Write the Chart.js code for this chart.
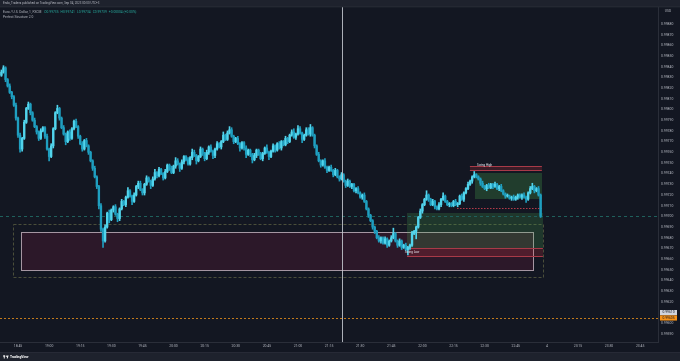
<!DOCTYPE html>
<html>
<head>
<meta charset="utf-8">
<script src="https://cdn.jsdelivr.net/npm/chart.js@4.4.0/dist/chart.umd.min.js"></script>
<style>
  html, body { margin: 0; background: #131722; }
  canvas { display: block; }
</style>
</head>
<body>
<canvas id="chart" width="680" height="361"></canvas>
<script>
// 1 minute candles, minute 0 = 18:45
const firstMinute = -8;
const firstOpen = 0.99832;
const closes = [
  0.99835,0.99839,0.99828,0.99822,0.99816,0.99812,0.99804,0.99792,0.99776,0.99763,
  0.99773,0.99788,0.99801,0.99805,0.99797,0.99790,0.99784,0.99779,0.99773,0.99780,
  0.99783,0.99775,0.99763,0.99756,0.99766,0.99782,0.99797,0.99801,0.99792,0.99783,
  0.99777,0.99770,0.99779,0.99773,0.99782,0.99789,0.99784,0.99775,0.99768,0.99763,
  0.99771,0.99766,0.99760,0.99752,0.99745,0.99737,0.99728,0.99710,0.99688,0.99677,
  0.99690,0.99703,0.99697,0.99706,0.99709,0.99702,0.99698,0.99707,0.99714,0.99711,
  0.99718,0.99724,0.99719,0.99714,0.99720,0.99728,0.99731,0.99725,0.99722,0.99730,
  0.99736,0.99733,0.99729,0.99735,0.99741,0.99738,0.99744,0.99740,0.99736,0.99742,
  0.99748,0.99745,0.99741,0.99747,0.99752,0.99749,0.99745,0.99751,0.99756,0.99753,
  0.99749,0.99755,0.99760,0.99757,0.99752,0.99756,0.99763,0.99759,0.99754,0.99760,
  0.99765,0.99761,0.99757,0.99763,0.99768,0.99765,0.99770,0.99776,0.99772,0.99778,
  0.99781,0.99775,0.99770,0.99773,0.99768,0.99764,0.99769,0.99764,0.99758,0.99762,
  0.99758,0.99753,0.99757,0.99762,0.99758,0.99754,0.99759,0.99764,0.99760,0.99756,
  0.99761,0.99766,0.99762,0.99768,0.99764,0.99770,0.99767,0.99773,0.99770,0.99776,
  0.99779,0.99774,0.99777,0.99782,0.99778,0.99772,0.99776,0.99781,0.99777,0.99783,
  0.99776,0.99766,0.99758,0.99752,0.99748,0.99752,0.99746,0.99743,0.99746,0.99743,
  0.99739,0.99743,0.99737,0.99735,0.99739,0.99733,0.99729,0.99733,0.99728,0.99730,
  0.99724,0.99726,0.99722,0.99718,0.99720,0.99714,0.99707,0.99701,0.99696,0.99690,
  0.99686,0.99680,0.99677,0.99680,0.99675,0.99679,0.99673,0.99677,0.99680,0.99684,
  0.99677,0.99673,0.99677,0.99671,0.99673,0.99669,0.99671,0.99673,0.99684,0.99686,
  0.99690,0.99699,0.99705,0.99711,0.99716,0.99720,0.99716,0.99711,0.99714,0.99709,
  0.99707,0.99711,0.99716,0.99719,0.99714,0.99711,0.99712,0.99710,0.99714,0.99711,
  0.99712,0.99719,0.99716,0.99722,0.99726,0.99730,0.99733,0.99737,0.99739,0.99737,
  0.99735,0.99731,0.99728,0.99726,0.99729,0.99727,0.99730,0.99728,0.99730,0.99726,
  0.99728,0.99724,0.99721,0.99719,0.99719,0.99717,0.99718,0.99716,0.99718,0.99720,
  0.99718,0.99720,0.99718,0.99716,0.99722,0.99726,0.99728,0.99724,0.99726,0.99720,
  0.99700
];
// wick lengths above / below the body, in 0.00001
const wickUp = [
  2,2,1,1,2,1,1,2,1,2, 1,2,1,2,1,1,2,1,1,2, 1,1,2,1,2,1,1,3,1,1, 2,1,1,2,1,1,2,1,1,2,
  1,2,1,1,1,2,1,1,2,1, 2,1,3,1,1,2,1,1,2,1, 1,3,1,1,2,1,2,2,1,1, 2,1,1,2,3,1,2,1,1,2,
  1,1,2,1,3,2,1,2,1,1, 2,1,3,2,1,1,2,1,1,2, 1,2,1,1,2,1,1,3,1,2, 3,2,1,1,2,1,1,1,2,1,
  1,1,2,1,1,2,1,1,3,1, 1,2,1,1,2,1,1,2,1,1, 2,3,1,3,2,1,1,2,2,3, 1,1,1,2,1,1,2,1,1,2,
  1,2,1,1,2,1,1,2,1,1, 1,1,2,1,1,2,1,1,1,1, 1,1,2,1,1,2,1,1,2,5, 1,1,2,1,1,2,1,1,2,1,
  1,1,2,1,1,4,1,1,2,1, 1,2,1,3,1,1,1,1,1,2, 1,1,2,1,1,2,1,1,3,1, 1,1,2,1,1,2,1,1,2,1,
  1,2,1,1,2,1,1,2,1,1, 1,1,2,1,1,2,3,1,1,2, 1
];
const wickDn = [
  1,1,2,1,1,2,1,2,2,3, 2,1,1,1,2,1,1,2,2,1, 1,2,1,4,1,2,1,1,2,1, 1,3,1,2,1,1,1,2,1,2,
  1,1,2,1,2,1,2,3,2,6, 1,1,3,1,2,1,3,2,1,1, 2,1,1,3,1,1,2,1,2,2, 1,1,3,1,1,2,1,1,2,1,
  1,2,1,1,2,1,3,1,2,1, 1,1,2,1,3,1,1,2,2,1, 2,1,3,2,1,1,2,1,1,1, 1,1,2,1,1,3,1,2,3,1,
  2,3,1,2,1,1,2,1,1,3, 1,1,2,1,1,2,1,1,2,1, 1,1,2,1,1,3,1,1,1,2, 1,2,1,1,2,1,1,2,1,1,
  2,1,1,2,1,1,2,1,1,2, 1,2,1,1,2,1,1,2,1,2, 2,1,1,2,1,1,2,1,1,1, 1,2,1,2,1,1,5,2,1,1,
  7,1,1,2,1,1,2,1,1,2, 1,1,2,1,1,1,2,1,1,1, 2,1,1,2,1,1,1,2,1,1, 1,2,1,1,2,1,1,2,1,1,
  2,1,1,2,1,1,2,1,1,2, 1,2,1,3,1,1,1,2,1,1, 1
];

const timeLabels = ['18:45','19:00','19:15','19:30','19:45','20:00','20:15','20:30','20:45','21:00',
  '21:15','21:30','21:45','22:00','22:15','22:30','22:45','4','23:15','23:30','23:45'];
const priceTicks = [0.99880,0.99870,0.99860,0.99850,0.99840,0.99830,0.99820,0.99810,0.99800,0.99790,
  0.99780,0.99770,0.99760,0.99750,0.99740,0.99730,0.99720,0.99710,0.99700,0.99690,
  0.99680,0.99670,0.99660,0.99650,0.99640,0.99630,0.99620,0.99610,0.99600,0.99590];

// drawings: [fromMinute, toMinute, topPrice, bottomPrice]
const rangeBox = [-2.4, 253.1, 0.99693, 0.99643];
const swingZone = [1.5, 248.3, 0.99685, 0.99650];
const longBox = [187.6, 253.1, 0.99703, 0.99670];
const longStop = [187.6, 253.1, 0.99670, 0.99663];
const highBox = [220.3, 252.6, 0.99741, 0.99716];
const highBand = [217.9, 252.6, 0.99747, 0.99743];
const dotLine = [211.7, 252.6, 0.99708];
const alertPrice = 0.99605;
const cursorPrice = 0.99610;
const cursorIndex = 164;

const opens = closes.map((c, i) => i ? closes[i - 1] : firstOpen);
const highs = closes.map((c, i) => Math.max(opens[i], c) + wickUp[i] * 1e-5);
const lows = closes.map((c, i) => Math.min(opens[i], c) - wickDn[i] * 1e-5);
const minutes = closes.map((c, i) => firstMinute + i);
const upCol = '#52d4ec', downCol = '#1f9fc0';
const colors = closes.map((c, i) => c >= opens[i] ? upCol : downCol);
const lastPrice = closes[closes.length - 1];

const overlay = {
  id: 'overlay',
  beforeDatasetsDraw(chart) {
    const {ctx, chartArea: a, scales: {x, y}} = chart;
    ctx.save();
    ctx.beginPath(); ctx.rect(a.left, a.top, a.width, a.height); ctx.clip();
    const box = (b, fill, stroke, dash) => {
      const x0 = Math.round(x.getPixelForValue(b[0])), x1 = Math.round(x.getPixelForValue(b[1]));
      const y0 = Math.round(y.getPixelForValue(b[2])), y1 = Math.round(y.getPixelForValue(b[3]));
      if (fill) { ctx.fillStyle = fill; ctx.fillRect(x0, y0, x1 - x0, y1 - y0); }
      if (stroke) {
        ctx.setLineDash(dash || []);
        ctx.strokeStyle = stroke; ctx.lineWidth = 1;
        ctx.strokeRect(x0 + 0.5, y0 + 0.5, x1 - x0, y1 - y0);
      }
    };
    const hline = (p, m0, m1, color, dash) => {
      const yy = Math.round(y.getPixelForValue(p)) + 0.5;
      ctx.setLineDash(dash || []);
      ctx.strokeStyle = color; ctx.lineWidth = 1;
      ctx.beginPath();
      ctx.moveTo(m0 == null ? a.left : x.getPixelForValue(m0), yy);
      ctx.lineTo(m1 == null ? a.right : x.getPixelForValue(m1), yy);
      ctx.stroke();
    };
    box(rangeBox, null, '#4a4e3a', [3, 2]);
    box(swingZone, 'rgba(233,30,99,0.12)', '#a596a2');
    box(longBox, 'rgba(76,175,80,0.22)');
    box(longStop, 'rgba(242,54,69,0.18)');
    hline(longStop[2], longStop[0], longStop[1], '#a83a48');
    hline(longStop[3], longStop[0], longStop[1], '#a83a48');
    box(highBox, 'rgba(76,175,80,0.25)');
    box(highBand, 'rgba(242,54,69,0.18)');
    hline(highBand[2], highBand[0], highBand[1], '#a83a48');
    hline(highBand[3], highBand[0], highBand[1], '#a83a48');
    hline(dotLine[2], dotLine[0], dotLine[1], '#b83c4b', [1.5, 1.5]);
    hline(lastPrice, null, null, '#1f605c', [3, 3]);
    hline(alertPrice, null, null, '#c27a1c', [2, 2]);
    ctx.restore();
  },
  afterDatasetsDraw(chart) {
    const {ctx, chartArea: a, scales: {x, y}} = chart;
    ctx.save();
    const cx = Math.round(x.getPixelForValue(minutes[cursorIndex])) + 0.5;
    ctx.strokeStyle = 'rgba(200,203,210,0.85)'; ctx.lineWidth = 1;
    ctx.beginPath(); ctx.moveTo(cx, a.top); ctx.lineTo(cx, a.bottom); ctx.stroke();
    ctx.font = '3px Roboto';
    ctx.fillStyle = '#e0e3eb';
    ctx.textAlign = 'center'; ctx.textBaseline = 'middle';
    ctx.fillText('Swing High', x.getPixelForValue(225), y.getPixelForValue(highBand[2]) - 0.5);
    ctx.fillText('Swing Low', x.getPixelForValue(190), y.getPixelForValue(longStop[2]) + 3.5);
    ctx.restore();
  },
  afterDraw(chart) {
    const {ctx, chartArea: a, scales: {y}} = chart;
    ctx.save();
    // header strip
    ctx.fillStyle = '#1e222d'; ctx.fillRect(0, 0, 680, 7);
    ctx.fillStyle = '#2a2e39'; ctx.fillRect(0, 6.5, 680, 0.8);
    ctx.textBaseline = 'middle'; ctx.textAlign = 'left';
    ctx.font = '3px Roboto'; ctx.fillStyle = '#b2b5be';
    ctx.fillText('Endo_Traders published on TradingView.com, Sep 04, 2023 00:00 UTC+3', 3, 3.5);
    // legend
    const k = cursorIndex, f = v => v.toFixed(5);
    const chg = closes[k] - opens[k];
    ctx.font = '3.3px Roboto';
    ctx.fillStyle = '#b2b5be';
    const head = 'Euro / U.S. Dollar, 1, FXCM';
    ctx.fillText(head, 3, 12);
    let px = 3 + ctx.measureText(head).width + 3;
    ctx.fillStyle = chg >= 0 ? '#26a69a' : '#ef5350';
    const vals = ['O' + f(opens[k]), 'H' + f(highs[k]), 'L' + f(lows[k]), 'C' + f(closes[k]),
      (chg >= 0 ? '+' : '\u2212') + f(Math.abs(chg)) + ' (' + (chg >= 0 ? '+' : '\u2212') + (Math.abs(chg) / opens[k] * 100).toFixed(2) + '%)'];
    vals.forEach(s => { ctx.fillText(s, px, 12); px += ctx.measureText(s).width + 2; });
    ctx.fillStyle = '#b2b5be';
    ctx.fillText('Perfect Structure 2.0', 3, 17);
    // price axis extras
    ctx.textAlign = 'center';
    ctx.fillStyle = '#b2b5be';
    ctx.fillText('USD', 668, 11);
    const tag = (p, bg, fg) => {
      const yy = y.getPixelForValue(p);
      ctx.fillStyle = bg; ctx.fillRect(660, yy - 2.6, 17, 5.2);
      ctx.fillStyle = fg; ctx.fillText(f(p), 668.5, yy);
    };
    tag(cursorPrice, '#d1d4dc', '#131722');
    tag(alertPrice, '#f7931a', '#131722');
    // bottom strip
    ctx.fillStyle = '#1e222d'; ctx.fillRect(0, 352, 680, 9);
    ctx.fillStyle = '#2a2e39'; ctx.fillRect(0, 352, 680, 0.8);
    ctx.fillStyle = '#ffffff';
    ctx.fillRect(3, 355.5, 2.2, 1); ctx.fillRect(3.8, 355.5, 0.9, 3);
    ctx.beginPath(); ctx.arc(6.4, 356.2, 0.6, 0, Math.PI * 2); ctx.fill();
    ctx.beginPath(); ctx.moveTo(7.2, 355.5); ctx.lineTo(8.6, 355.5); ctx.lineTo(7.6, 358.5); ctx.lineTo(6.8, 358.5); ctx.fill();
    ctx.textAlign = 'left';
    ctx.font = 'bold 3.3px Roboto';
    ctx.fillText('TradingView', 10, 357.2);
    ctx.restore();
  }
};

new Chart(document.getElementById('chart'), {
  type: 'bar',
  data: {
    datasets: [
      {
        label: 'wicks',
        data: minutes.map((m, i) => ({x: m, y: [lows[i], highs[i]]})),
        backgroundColor: colors,
        barThickness: 1,
        grouped: false,
        order: 2
      },
      {
        label: 'bodies',
        data: minutes.map((m, i) => ({x: m, y: [opens[i], closes[i]]})),
        backgroundColor: colors,
        barThickness: 1.7,
        minBarLength: 1,
        grouped: false,
        order: 1
      }
    ]
  },
  options: {
    responsive: false,
    animation: false,
    devicePixelRatio: 1,
    events: [],
    layout: {padding: {top: 7, bottom: 9, left: 0, right: 0}},
    plugins: {legend: {display: false}, tooltip: {enabled: false}},
    scales: {
      x: {
        type: 'linear',
        min: -8.68,
        max: 308.6,
        offset: false,
        afterBuildTicks: s => { s.ticks = timeLabels.map((t, i) => ({value: i * 15})); },
        afterFit: s => { s.height = 10; },
        ticks: {
          callback: (v, i) => timeLabels[i],
          autoSkip: false, maxRotation: 0, padding: 2.5,
          color: '#b2b5be', font: {family: 'Roboto', size: 3.4}
        },
        grid: {display: false, drawTicks: false},
        border: {color: '#2a2e39'}
      },
      y: {
        position: 'right',
        min: 0.995825,
        max: 0.998959,
        afterBuildTicks: s => { s.ticks = priceTicks.map(v => ({value: v})); },
        afterFit: s => { s.width = 22; },
        ticks: {
          callback: v => v.toFixed(5),
          padding: 3,
          color: '#b2b5be', font: {family: 'Roboto', size: 3.4}
        },
        grid: {display: false, drawTicks: false},
        border: {color: '#2a2e39'}
      }
    }
  },
  plugins: [overlay]
});
</script>
</body>
</html>
